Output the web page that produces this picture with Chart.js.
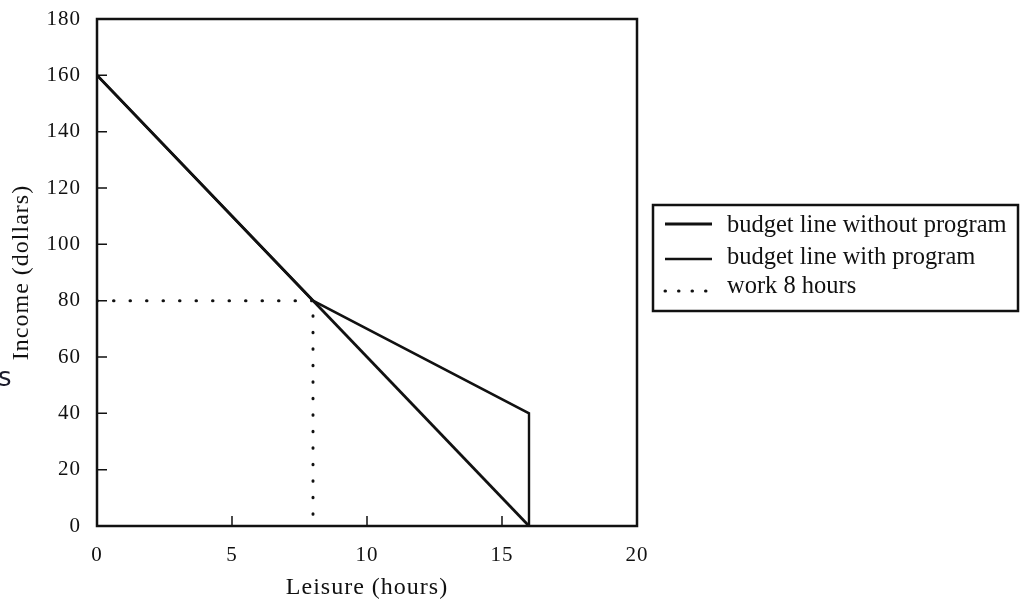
<!DOCTYPE html>
<html>
<head>
<meta charset="utf-8">
<script src="https://cdn.jsdelivr.net/npm/chart.js@4.4.1/dist/chart.umd.min.js"></script>
<style>
  html, body { margin: 0; padding: 0; background: #fff; }
  canvas { display: block; }
</style>
</head>
<body>
<canvas id="budgetChart" width="1034" height="606"></canvas>
<script>
// data
const leisureWithout = [0, 16];
const incomeWithout = [160, 0];
const leisureWith = [0, 8, 16, 16];
const incomeWith = [160, 80, 40, 0];
const leisureWork = [0, 8, 8];
const incomeWork = [80, 80, 0];
const xTicks = [0, 5, 10, 15, 20];
const yTicks = [0, 20, 40, 60, 80, 100, 120, 140, 160, 180];
const seriesNames = ["budget line without program", "budget line with program", "work 8 hours"];

const ink = "#111";
const family = "'Liberation Serif', 'Times New Roman', serif";
const tickFont = { family: family, size: 21 };
const titleFont = { family: family, size: 24 };

function toPoints(xs, ys) {
  return xs.map((x, i) => ({ x: x, y: ys[i] }));
}

// frame, inward ticks, boxed legend
const paperPlugin = {
  id: "paper",
  beforeDraw(chart) {
    chart.ctx.letterSpacing = "1px";
  },
  afterDraw(chart) {
    const ctx = chart.ctx;
    const a = chart.chartArea;
    const xs = chart.scales.x, ys = chart.scales.y;
    ctx.save();
    ctx.strokeStyle = ink;
    ctx.lineWidth = 1.5;
    ctx.beginPath();
    xTicks.slice(1, -1).forEach((v) => {
      const px = xs.getPixelForValue(v);
      ctx.moveTo(px, a.bottom);
      ctx.lineTo(px, a.bottom - 10);
    });
    yTicks.slice(1, -1).forEach((v) => {
      const py = ys.getPixelForValue(v);
      ctx.moveTo(a.left, py);
      ctx.lineTo(a.left + 10, py);
    });
    ctx.stroke();
    ctx.lineWidth = 2.5;
    ctx.strokeRect(a.left, a.top, a.right - a.left, a.bottom - a.top);

    // legend
    ctx.lineWidth = 2.5;
    ctx.strokeRect(653, 205, 365, 106);
    const baselines = [232, 264, 293];
    const samples = [224, 259, 291];
    ctx.font = "24.5px " + family;
    ctx.fillStyle = ink;
    ctx.textBaseline = "alphabetic";
    ctx.letterSpacing = "0px";
    chart.data.datasets.forEach((ds, i) => {
      ctx.save();
      ctx.lineWidth = ds.borderWidth;
      ctx.lineCap = ds.borderCapStyle || "butt";
      ctx.setLineDash(i === 2 ? [0.5, 13] : []);
      ctx.beginPath();
      ctx.moveTo(665, samples[i]);
      ctx.lineTo(i === 2 ? 719 : 712, samples[i]);
      ctx.stroke();
      ctx.restore();
      ctx.fillText(ds.label, 727, baselines[i]);
    });

    // stray glyph at the left edge of the scan
    ctx.font = "26px 'DejaVu Sans', sans-serif";
    ctx.fillStyle = "#1b1b2b";
    ctx.fillText("s", -2, 386);
    ctx.restore();
  }
};

new Chart(document.getElementById("budgetChart").getContext("2d"), {
  type: "line",
  data: {
    datasets: [
      {
        label: seriesNames[0],
        data: toPoints(leisureWithout, incomeWithout),
        borderColor: ink,
        borderWidth: 2.8,
        pointRadius: 0,
        tension: 0
      },
      {
        label: seriesNames[1],
        data: toPoints(leisureWith, incomeWith),
        borderColor: ink,
        borderWidth: 2.4,
        pointRadius: 0,
        tension: 0
      },
      {
        label: seriesNames[2],
        data: toPoints(leisureWork, incomeWork),
        borderColor: ink,
        borderWidth: 3,
        borderDash: [0.5, 16],
        borderCapStyle: "round",
        pointRadius: 0,
        tension: 0
      }
    ]
  },
  options: {
    responsive: false,
    animation: false,
    events: [],
    layout: { padding: { left: 0, top: 19, right: 397, bottom: 0 } },
    plugins: {
      legend: { display: false },
      tooltip: { enabled: false }
    },
    scales: {
      x: {
        type: "linear",
        min: 0,
        max: 20,
        afterBuildTicks: (s) => { s.ticks = xTicks.map((v) => ({ value: v })); },
        grid: { display: false, drawTicks: false },
        border: { display: false },
        ticks: { padding: 17, color: ink, font: tickFont, maxRotation: 0 },
        title: { display: true, text: "Leisure (hours)", color: ink, font: titleFont, padding: { top: 0, bottom: 4 } },
        afterFit: (s) => {
          s.height = 80;
          s.paddingLeft = 0;
          s.paddingRight = 0;
        }
      },
      y: {
        type: "linear",
        min: 0,
        max: 180,
        afterBuildTicks: (s) => { s.ticks = yTicks.map((v) => ({ value: v })); },
        grid: { display: false, drawTicks: false },
        border: { display: false },
        ticks: { padding: 16, color: ink, font: tickFont },
        title: { display: true, text: "Income (dollars)", color: ink, font: titleFont, padding: { top: 7 } },
        afterFit: (s) => {
          s.width = 97;
          s.paddingTop = 0;
          s.paddingBottom = 0;
        }
      }
    }
  },
  plugins: [paperPlugin]
});
</script>
</body>
</html>
